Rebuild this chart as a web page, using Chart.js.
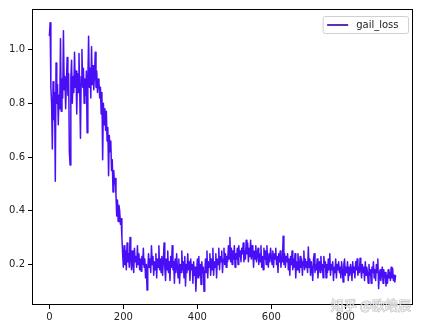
<!DOCTYPE html>
<html><head><meta charset="utf-8">
<script src="https://cdn.jsdelivr.net/npm/chart.js@4/dist/chart.umd.min.js"></script>
<style>html,body{margin:0;padding:0;background:#fff;}#wrap{width:423px;height:325px;}</style>
</head><body><div id="wrap"><canvas id="c" width="423" height="325"></canvas></div>
<script>
const seriesLabel = 'gail_loss';
const stepSize = 2;
// values, one every 2 steps (x = 0 .. 936)
const gailLoss = [
  // 0-132
  1.05,1.10,0.86,0.80,0.63,0.88,0.74,0.84,0.51,0.95,
  0.80,0.87,0.72,0.83,0.78,1.04,0.77,0.89,0.82,1.07,
  0.85,0.90,0.78,0.88,0.97,0.83,0.91,0.62,0.57,0.89,
  0.96,0.80,0.90,0.84,0.99,0.86,0.92,0.76,0.91,0.84,
  0.985,0.85,0.67,0.90,1.00,0.86,0.93,0.80,0.89,0.83,
  0.92,0.69,0.88,1.05,0.86,0.93,0.82,1.01,0.87,0.94,
  0.85,0.91,0.99,0.86,0.92,0.84,0.89,
  // 134-200
  0.88,0.82,0.86,0.76,0.84,0.59,0.80,0.72,0.78,0.70,
  0.77,0.66,0.71,0.53,0.68,0.62,0.66,0.55,0.59,0.47,
  0.55,0.50,0.52,0.46,0.38,0.44,0.36,0.42,0.40,0.35,
  0.37,0.30,0.24,0.19,
  // 202-300
  0.27,0.20,0.25,0.18,0.28,0.21,0.24,0.19,0.30,0.22,
  0.18,0.25,0.20,0.17,0.26,0.21,0.23,0.19,0.27,0.20,
  0.24,0.18,0.22,0.175,0.23,0.20,0.26,0.19,0.22,0.15,
  0.20,0.105,0.18,0.24,0.19,0.22,0.17,0.27,0.20,0.23,
  0.16,0.21,0.18,0.24,0.15,0.22,0.19,0.27,0.18,0.22,
  // 302-420
  0.17,0.23,0.16,0.21,0.28,0.19,0.14,0.22,0.18,0.25,
  0.17,0.21,0.14,0.23,0.19,0.27,0.18,0.21,0.13,0.22,
  0.17,0.24,0.19,0.15,0.22,0.13,0.20,0.17,0.25,0.18,
  0.21,0.15,0.23,0.12,0.20,0.17,0.24,0.18,0.21,0.14,
  0.22,0.18,0.20,0.13,0.21,0.16,0.19,0.10,0.17,0.22,
  0.15,0.23,0.16,0.20,0.125,0.21,0.17,0.19,0.10,0.16,
  // 422-480
  0.22,0.17,0.25,0.15,0.21,0.19,0.24,0.16,0.22,0.18,
  0.26,0.16,0.21,0.19,0.24,0.15,0.22,0.20,0.26,0.18,
  0.23,0.21,0.25,0.17,0.22,0.26,0.20,0.24,0.19,0.23,
  // 482-560
  0.21,0.27,0.22,0.30,0.21,0.26,0.20,0.25,0.22,0.27,
  0.19,0.24,0.22,0.26,0.20,0.27,0.23,0.25,0.21,0.26,
  0.24,0.28,0.21,0.25,0.22,0.29,0.24,0.28,0.21,0.26,
  0.23,0.29,0.22,0.27,0.24,0.19,0.25,0.22,0.27,0.21,
  // 562-640
  0.24,0.26,0.20,0.24,0.21,0.27,0.19,0.23,0.18,0.26,
  0.22,0.25,0.20,0.27,0.22,0.19,0.24,0.21,0.26,0.23,
  0.20,0.25,0.19,0.24,0.22,0.26,0.20,0.23,0.17,0.24,
  0.21,0.25,0.19,0.23,0.21,0.305,0.20,0.24,0.19,0.23,
  // 642-700
  0.21,0.24,0.18,0.22,0.16,0.23,0.20,0.25,0.18,0.22,
  0.19,0.24,0.15,0.21,0.18,0.24,0.20,0.17,0.23,0.19,
  0.22,0.16,0.21,0.25,0.18,0.22,0.19,0.21,0.17,0.265,
  // 702-780
  0.19,0.22,0.16,0.21,0.18,0.14,0.22,0.24,0.17,0.20,
  0.18,0.22,0.15,0.19,0.21,0.17,0.23,0.18,0.20,0.15,
  0.23,0.19,0.21,0.15,0.20,0.17,0.22,0.18,0.24,0.16,
  0.20,0.18,0.21,0.14,0.19,0.17,0.22,0.15,0.20,0.18,
  // 782-936
  0.21,0.17,0.19,0.15,0.21,0.18,0.135,0.20,0.22,0.16,
  0.19,0.17,0.21,0.14,0.19,0.16,0.20,0.18,0.14,0.21,
  0.17,0.19,0.15,0.21,0.18,0.22,0.16,0.19,0.17,0.223,
  0.18,0.15,0.20,0.17,0.19,0.14,0.21,0.16,0.19,0.17,
  0.13,0.20,0.16,0.18,0.13,0.19,0.17,0.21,0.15,0.18,
  0.14,0.20,0.17,0.22,0.11,0.16,0.18,0.14,0.17,0.19,
  0.13,0.18,0.15,0.17,0.12,0.16,0.13,0.18,0.15,0.17,
  0.14,0.19,0.15,0.185,0.14,0.16,0.135,0.16
];
const steps = gailLoss.map((_, i) => i * stepSize);
const xTicks = [0, 200, 400, 600, 800];
const yTicks = [0.2, 0.4, 0.6, 0.8, 1.0];
const xRange = [-47, 983];
const yRange = [0.049, 1.151];
const watermark = '知乎 @欧皓辰';

const lineColor = 'rgb(72,14,245)';
const legendLineColor = 'rgb(75,24,170)';

const framePlugin = {
  id: 'frame',
  afterDraw(chart) {
    const {ctx, chartArea: a} = chart;
    ctx.save();
    ctx.strokeStyle = '#000';
    ctx.lineWidth = 1;
    ctx.strokeRect(Math.round(a.left) + 0.5, Math.round(a.top) + 0.5, Math.round(a.right - a.left) - 1, Math.round(a.bottom - a.top) - 1);
    ctx.restore();
  }
};
const legendPlugin = {
  id: 'mplLegend',
  afterDraw(chart) {
    const {ctx, chartArea: a} = chart;
    const ds = chart.data.datasets[0];
    ctx.save();
    ctx.font = '10px "DejaVu Sans"';
    const tw = ctx.measureText(ds.label).width;
    const right = a.right - 4.5, top = a.top + 7.5;
    const w = 8 + 21 + 8 + tw + 6, h = 17;
    const left = right - w;
    ctx.fillStyle = 'rgba(255,255,255,0.85)';
    ctx.strokeStyle = '#d0d0d0';
    ctx.lineWidth = 1;
    ctx.beginPath();
    if (ctx.roundRect) ctx.roundRect(left, top, w, h, 2); else ctx.rect(left, top, w, h);
    ctx.fill(); ctx.stroke();
    ctx.strokeStyle = legendLineColor;
    ctx.lineWidth = 1.8;
    ctx.beginPath();
    ctx.moveTo(left + 4, top + h / 2);
    ctx.lineTo(left + 25, top + h / 2);
    ctx.stroke();
    ctx.fillStyle = '#222';
    ctx.textBaseline = 'middle';
    ctx.textAlign = 'left';
    ctx.fillText(ds.label, left + 33, top + h / 2 + 0.5);
    ctx.restore();
  }
};
const watermarkPlugin = {
  id: 'wm',
  afterDraw(chart) {
    const {ctx} = chart;
    ctx.save();
    ctx.font = '13px "Noto Sans CJK SC"';
    ctx.textAlign = 'right';
    ctx.textBaseline = 'middle';
    ctx.lineWidth = 1;
    ctx.strokeStyle = 'rgba(150,150,150,0.6)';
    ctx.fillStyle = 'rgba(255,255,255,0.7)';
    ctx.strokeText(watermark, 411, 305);
    ctx.fillText(watermark, 411, 305);
    ctx.restore();
  }
};

const tickFont = {family: 'DejaVu Sans', size: 10};
new Chart(document.getElementById('c').getContext('2d'), {
  type: 'line',
  data: {
    datasets: [{
      label: seriesLabel,
      data: steps.map((x, i) => ({x: x, y: gailLoss[i]})),
      borderColor: lineColor,
      borderWidth: 1.5,
      pointRadius: 0,
      tension: 0,
      fill: false,
      borderJoinStyle: 'round'
    }]
  },
  options: {
    responsive: false,
    animation: false,
    devicePixelRatio: 1,
    layout: {padding: {left: 0, right: 10, top: 8, bottom: 0}},
    plugins: {legend: {display: false}, tooltip: {enabled: false}},
    scales: {
      x: {
        type: 'linear', min: xRange[0], max: xRange[1],
        afterBuildTicks: s => { s.ticks = xTicks.map(v => ({value: v})); },
        afterFit: s => { s.height = 20; },
        grid: {drawOnChartArea: false, drawTicks: true, tickLength: 4, color: '#000'},
        border: {display: false},
        ticks: {color: '#222', font: tickFont, padding: 2, maxRotation: 0, autoSkip: false, callback: v => String(v)}
      },
      y: {
        type: 'linear', min: yRange[0], max: yRange[1],
        afterBuildTicks: s => { s.ticks = yTicks.map(v => ({value: v})); },
        afterFit: s => { s.width = 32; },
        grid: {drawOnChartArea: false, drawTicks: true, tickLength: 4, color: '#000'},
        border: {display: false},
        ticks: {color: '#222', font: tickFont, padding: 3, autoSkip: false, callback: v => Number(v).toFixed(1)}
      }
    }
  },
  plugins: [framePlugin, legendPlugin, watermarkPlugin]
});
</script></body></html>
